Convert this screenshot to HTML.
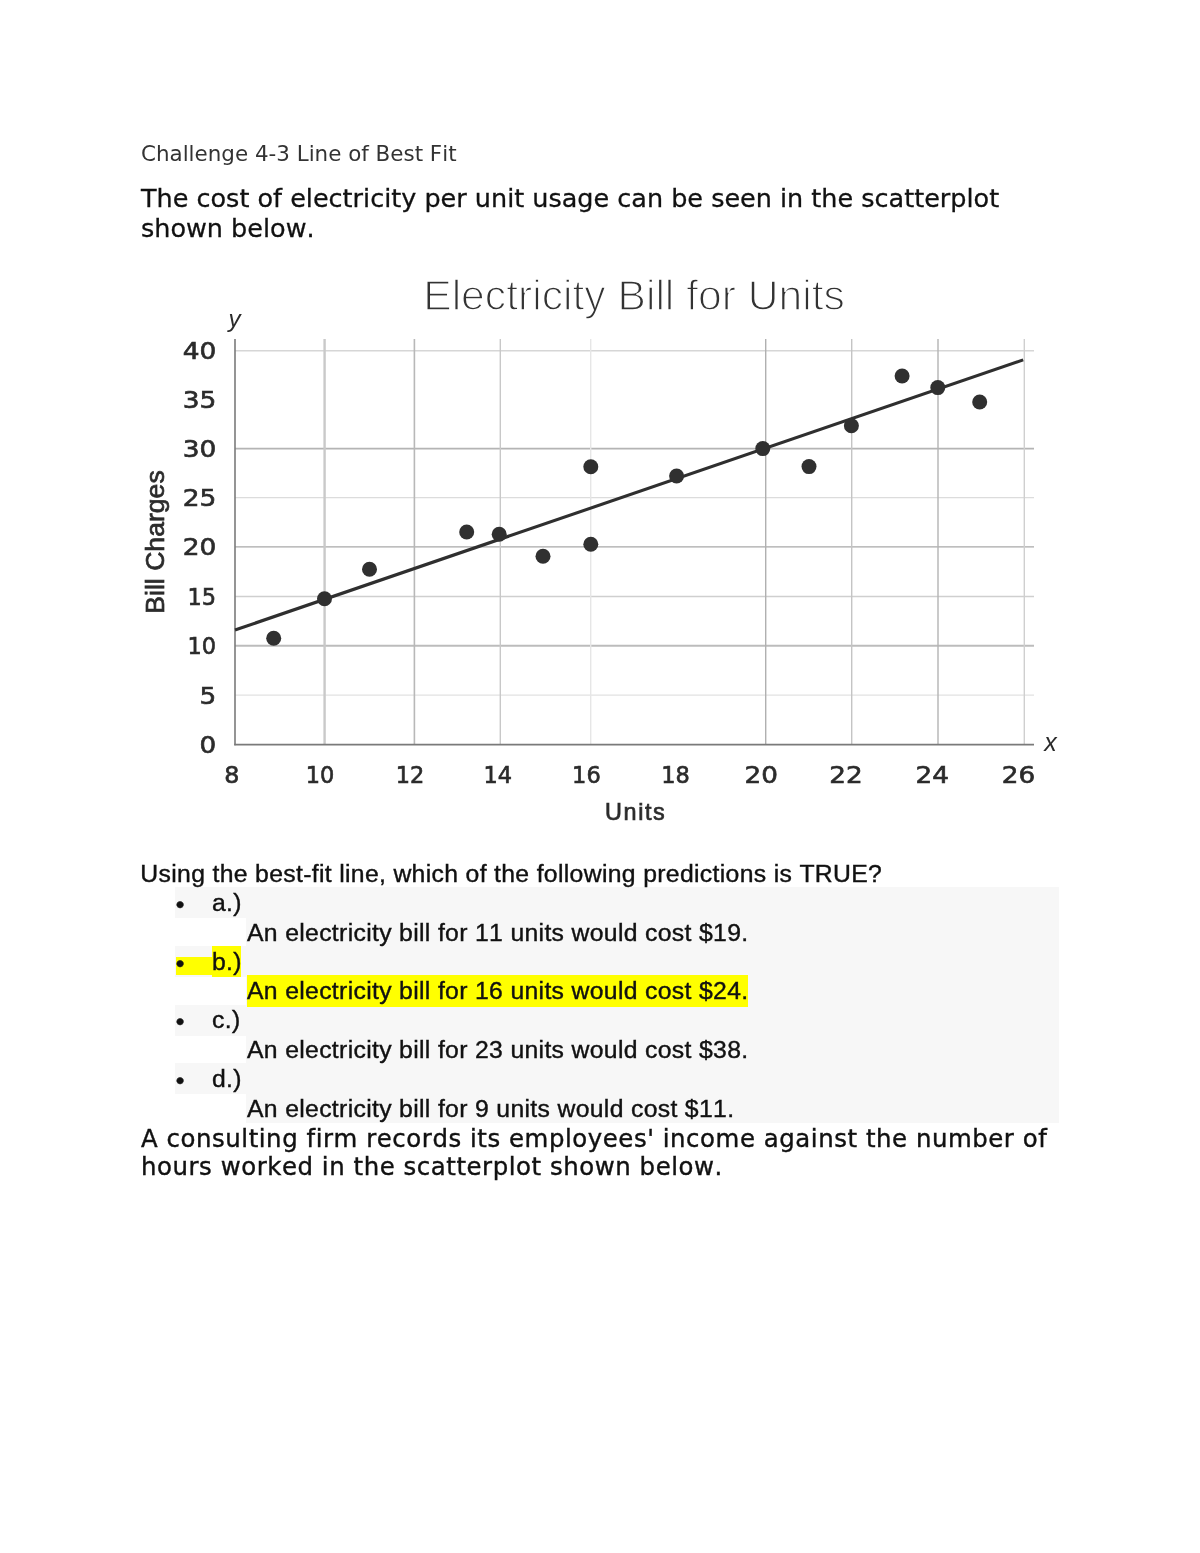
<!DOCTYPE html>
<html><head><meta charset="utf-8"><title>Challenge 4-3 Line of Best Fit</title>
<style>
html,body{margin:0;padding:0;background:#fff;}
body{width:1200px;height:1553px;position:relative;overflow:hidden;color:#111;}
.t{position:absolute;white-space:pre;line-height:1;margin:0;font-kerning:none;}
.dj{font-family:"DejaVu Sans","Liberation Sans",sans-serif;}
.lb{font-family:"Liberation Sans","DejaVu Sans",sans-serif;}
.h{font-size:21.43px;color:#333;}
.b{font-size:25.49px;color:#111;-webkit-text-stroke:0.3px #111;}
.a{font-size:25.49px;color:#111;-webkit-text-stroke:0.4px #111;}
.dj.a{font-size:24.4px;letter-spacing:0.56px;margin-top:0.9px;}
.lb.a{font-size:24.75px;letter-spacing:0.33px;margin-top:0.6px;}
.bg{position:absolute;background:#f7f7f7;}
.wh{position:absolute;background:#fff;}
.y{position:absolute;background:#ffff00;}
svg{position:absolute;left:0;top:0;}
svg text{font-family:"Liberation Sans","DejaVu Sans",sans-serif;fill:#2b2b2b;}
svg .tk text{font-family:"DejaVu Sans","Liberation Sans",sans-serif;font-size:23.8px;stroke:#2b2b2b;stroke-width:0.65px;}
svg .lbl{stroke:#2b2b2b;stroke-width:0.7px;}
</style></head><body>
<div class="t dj h" style="left:141px;top:143.2px;">Challenge 4-3 Line of Best Fit</div>
<div class="t dj b" style="left:141px;top:186.1px;">The cost of electricity per unit usage can be seen in the scatterplot</div>
<div class="t dj b" style="left:141px;top:215.6px;">shown below.</div>

<svg width="1200" height="860" viewBox="0 0 1200 860">
<g id="grid" fill="none" stroke-width="1.4">
<line x1="235" y1="350.8" x2="1034" y2="350.8" stroke="#d6d6d6" stroke-width="1.6"/>
<line x1="235" y1="448.6" x2="1034" y2="448.6" stroke="#b4b4b4" stroke-width="1.8"/>
<line x1="235" y1="497.6" x2="1034" y2="497.6" stroke="#dcdcdc"/>
<line x1="235" y1="546.9" x2="1034" y2="546.9" stroke="#a8a8a8"/>
<line x1="235" y1="596.5" x2="1034" y2="596.5" stroke="#cfcfcf"/>
<line x1="235" y1="645.8" x2="1034" y2="645.8" stroke="#bcbcbc" stroke-width="2"/>
<line x1="235" y1="695.1" x2="1034" y2="695.1" stroke="#e2e2e2"/>
<line x1="324.6" y1="339" x2="324.6" y2="744" stroke="#c9c9c9" stroke-width="2.4"/>
<line x1="414.4" y1="339" x2="414.4" y2="744" stroke="#b8b8b8" stroke-width="1.6"/>
<line x1="500.3" y1="339" x2="500.3" y2="744" stroke="#c8c8c8"/>
<line x1="590.7" y1="339" x2="590.7" y2="744" stroke="#e6e6e6"/>
<line x1="765.7" y1="339" x2="765.7" y2="744" stroke="#b0b0b0"/>
<line x1="851.7" y1="339" x2="851.7" y2="744" stroke="#c4c4c4"/>
<line x1="938" y1="339" x2="938" y2="744" stroke="#b4b4b4"/>
<line x1="1024.3" y1="339" x2="1024.3" y2="744" stroke="#cfcfcf"/>
</g>
<g id="axes" fill="none" stroke="#7a7a7a" stroke-width="1.6">
<line x1="235" y1="339" x2="235" y2="745.3"/>
<line x1="234.2" y1="744.6" x2="1034" y2="744.6"/>
</g>
<line x1="235" y1="630" x2="1023.2" y2="359.9" stroke="#2f2f2f" stroke-width="3.1"/>
<g id="dots" fill="#303030">
<circle cx="273.7" cy="638.2" r="7.5"/>
<circle cx="324.5" cy="598.7" r="7.5"/>
<circle cx="369.5" cy="569.2" r="7.5"/>
<circle cx="466.7" cy="532" r="7.5"/>
<circle cx="499.2" cy="534.2" r="7.5"/>
<circle cx="543" cy="556.3" r="7.5"/>
<circle cx="590.8" cy="466.7" r="7.5"/>
<circle cx="590.8" cy="544.2" r="7.5"/>
<circle cx="676.6" cy="476" r="7.5"/>
<circle cx="762.8" cy="448.6" r="7.5"/>
<circle cx="809" cy="466.6" r="7.5"/>
<circle cx="851.4" cy="425.8" r="7.5"/>
<circle cx="902.1" cy="376" r="7.5"/>
<circle cx="937.8" cy="387.6" r="7.5"/>
<circle cx="979.7" cy="402" r="7.5"/>
</g>
<text x="423.2" y="310" font-size="42.65" fill="#2e2e2e" stroke="#fff" stroke-width="1.45" style="fill:#333;font-family:'Liberation Sans',sans-serif">Electricity Bill for Units</text>
<g class="tk" text-anchor="end">
<text x="216.3" y="359.1" textLength="33.6" lengthAdjust="spacingAndGlyphs">40</text>
<text x="216.3" y="408.3" textLength="33.6" lengthAdjust="spacingAndGlyphs">35</text>
<text x="216.3" y="457.0" textLength="33.6" lengthAdjust="spacingAndGlyphs">30</text>
<text x="216.3" y="506.0" textLength="33.6" lengthAdjust="spacingAndGlyphs">25</text>
<text x="216.3" y="555.3" textLength="33.6" lengthAdjust="spacingAndGlyphs">20</text>
<text x="216" y="604.9" textLength="28.6" lengthAdjust="spacingAndGlyphs">15</text>
<text x="216" y="654.2" textLength="28.6" lengthAdjust="spacingAndGlyphs">10</text>
<text x="216.2" y="703.5" textLength="16.7" lengthAdjust="spacingAndGlyphs">5</text>
<text x="216.2" y="752.8" textLength="16.7" lengthAdjust="spacingAndGlyphs">0</text>
</g>
<g class="tk" text-anchor="middle">
<text x="231.9" y="782.7">8</text>
<text x="320" y="782.7" textLength="28.6" lengthAdjust="spacingAndGlyphs">10</text>
<text x="410" y="782.7" textLength="28.6" lengthAdjust="spacingAndGlyphs">12</text>
<text x="497.75" y="782.7" textLength="28.6" lengthAdjust="spacingAndGlyphs">14</text>
<text x="586.4" y="782.7" textLength="28.6" lengthAdjust="spacingAndGlyphs">16</text>
<text x="675.6" y="782.7" textLength="28.6" lengthAdjust="spacingAndGlyphs">18</text>
<text x="761.2" y="782.7" textLength="33.4" lengthAdjust="spacingAndGlyphs">20</text>
<text x="846" y="782.7" textLength="33.4" lengthAdjust="spacingAndGlyphs">22</text>
<text x="932.2" y="782.7" textLength="33.4" lengthAdjust="spacingAndGlyphs">24</text>
<text x="1018.5" y="782.7" textLength="33.4" lengthAdjust="spacingAndGlyphs">26</text>
</g>
<text x="635.7" y="820" font-size="23.4" text-anchor="middle" letter-spacing="1.6" class="lbl">Units</text>
<text x="234.6" y="327" font-size="24.2" font-style="italic" text-anchor="middle" class="it">y</text>
<text x="1050.5" y="751" font-size="25" font-style="italic" text-anchor="middle" class="it">x</text>
<text transform="translate(163.7,542) rotate(-90)" font-size="26.6" text-anchor="middle" class="lbl">Bill Charges</text>
</svg>

<div class="bg" style="left:175px;top:886.8px;width:883.7px;height:236.7px;"></div>
<div class="wh" style="left:174px;top:917.8px;width:71.5px;height:28.2px;"></div>
<div class="wh" style="left:174px;top:976.6px;width:71.5px;height:28.6px;"></div>
<div class="wh" style="left:174px;top:1035.8px;width:71.5px;height:27.4px;"></div>
<div class="wh" style="left:174px;top:1094.1px;width:71.5px;height:29.5px;"></div>
<div class="y" style="left:176.3px;top:957.3px;width:36px;height:18px;"></div>
<div class="y" style="left:211.7px;top:946px;width:29.4px;height:30.6px;"></div>
<div class="y" style="left:247.1px;top:975.4px;width:501.2px;height:31.2px;"></div>
<div class="t lb a" style="left:140.3px;top:861.1px;">Using the best-fit line, which of the following predictions is TRUE?</div>
<div class="t lb a" style="left:175.8px;top:892.1px;">•</div><div class="t lb a" style="left:212px;top:890.5px;">a.)</div>
<div class="t lb a" style="left:247px;top:920.2px;">An electricity bill for 11 units would cost $19.</div>
<div class="t lb a" style="left:175.8px;top:951.2px;">•</div><div class="t lb a" style="left:212px;top:949.6px;">b.)</div>
<div class="t lb a" style="left:247px;top:978.4px;">An electricity bill for 16 units would cost $24.</div>
<div class="t lb a" style="left:175.8px;top:1009.1px;">•</div><div class="t lb a" style="left:212px;top:1007.5px;">c.)</div>
<div class="t lb a" style="left:247px;top:1037.4px;">An electricity bill for 23 units would cost $38.</div>
<div class="t lb a" style="left:175.8px;top:1068.3px;">•</div><div class="t lb a" style="left:212px;top:1066.7px;">d.)</div>
<div class="t lb a" style="left:247px;top:1096.4px;">An electricity bill for 9 units would cost $11.</div>
<div class="t dj a" style="left:141px;top:1126.5px;">A consulting firm records its employees' income against the number of</div>
<div class="t dj a" style="left:141px;top:1154.3px;">hours worked in the scatterplot shown below.</div>
</body></html>
